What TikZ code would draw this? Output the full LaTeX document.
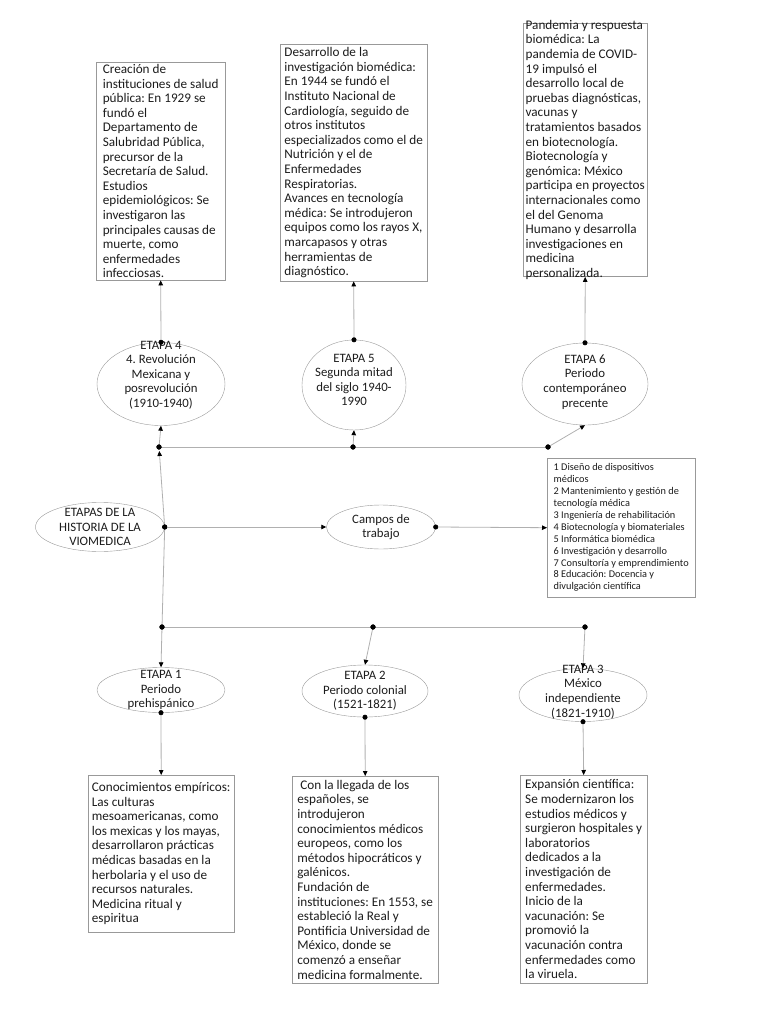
\documentclass[tikz,border=0pt]{standalone}
\usepackage{fontspec}
\setmainfont{Carlito}
\usetikzlibrary{arrows.meta, shapes.geometric, positioning}
\definecolor{linea}{HTML}{B0B0B0}
\definecolor{borde}{HTML}{999999}
\definecolor{tinta}{HTML}{1C1C1C}

\begin{document}
\frenchspacing
\begin{tikzpicture}[x=1pt, y=-1pt,
every node/.append style = {text=tinta, font=\fontsize{12.8}{14.6}\selectfont},
  caja/.style = {draw=borde, anchor=north west, align=left,
                 inner xsep=0pt, inner ysep=1pt,
                 font=\fontsize{13.2}{14.6}\selectfont},
 etapa/.style = {ellipse, draw=borde, inner sep=0pt},
rotulo/.style = {align=center, inner sep=0pt},
   con/.style = {draw=linea, line width=0.8pt, shorten <=-2.5pt,
                 {Circle[color=black, length=5pt]}-{Triangle[color=black, length=5pt, width=4.5pt]}},
   bus/.style = {draw=linea, line width=0.8pt}
                    ]
\useasboundingbox (0,0) rectangle (768,1024);
%top boxes
\node (caja4) [caja, minimum width=129pt, minimum height=218pt] at (96,62)
  {Creación de\\instituciones de salud\\pública: En 1929 se\\fundó el\\Departamento de\\Salubridad Pública,\\precursor de la\\Secretaría de Salud.\\Estudios\\epidemiológicos: Se\\investigaron las\\principales causas de\\muerte, como\\enfermedades\\infecciosas.};
\node (caja5) [caja, minimum width=147pt, minimum height=237pt] at (280,44)
  {Desarrollo de la\\investigación biomédica:\\En 1944 se fundó el\\Instituto Nacional de\\Cardiología, seguido de\\otros institutos\\especializados como el de\\Nutrición y el de\\Enfermedades\\Respiratorias.\\Avances en tecnología\\médica: Se introdujeron\\equipos como los rayos X,\\marcapasos y otras\\herramientas de\\diagnóstico.};
\node (caja6) [caja, minimum width=124pt, inner ysep=-3pt] at (523,23)
  {Pandemia y respuesta\\biomédica: La\\pandemia de COVID-\\19 impulsó el\\desarrollo local de\\pruebas diagnósticas,\\vacunas y\\tratamientos basados\\en biotecnología.\\Biotecnología y\\genómica: México\\participa en proyectos\\internacionales como\\el del Genoma\\Humano y desarrolla\\investigaciones en\\medicina\\personalizada.};
%upper stages
\node (e4) [etapa, minimum width=128pt, minimum height=83pt] at (161,384) {};
\node (t4) [rotulo] at (161,375) {ETAPA 4\\4. Revolución\\Mexicana y\\posrevolución\\(1910-1940)};
\node (e5) [etapa, minimum width=104pt, minimum height=90pt] at (354,385) {};
\node (t5) [rotulo] at (354,380) {ETAPA 5\\Segunda mitad\\del siglo 1940-\\1990};
\node (e6) [etapa, minimum width=126pt, minimum height=82pt] at (585,384) {};
\node (t6) [rotulo] at (585,382) {ETAPA 6\\Periodo\\contemporáneo\\precente};
%middle row
\node (historia) [etapa, minimum width=129pt, minimum height=49pt] at (100,527) {};
\node (th) [rotulo] at (100,527) {ETAPAS DE LA\\HISTORIA DE LA\\VIOMEDICA};
\node (campos) [etapa, minimum width=109pt, minimum height=44pt, align=center] at (381,527) {Campos de\\trabajo};
\node (lista) [caja, minimum width=148pt, minimum height=139pt,
               font=\fontsize{10.3}{11.9}\selectfont] at (547,458)
  {1 Diseño de dispositivos\\médicos\\2 Mantenimiento y gestión de\\tecnología médica\\3 Ingeniería de rehabilitación\\4 Biotecnología y biomateriales\\5 Informática biomédica\\6 Investigación y desarrollo\\7 Consultoría y emprendimiento\\8 Educación: Docencia y\\divulgación científica};
%lower stages
\node (e1) [etapa, minimum width=128pt, minimum height=45pt] at (161,690) {};
\node (t1) [rotulo] at (161,690) {ETAPA 1\\Periodo\\prehispánico};
\node (e2) [etapa, minimum width=126pt, minimum height=52pt] at (365,691) {};
\node (t2) [rotulo] at (365,691) {ETAPA 2\\Periodo colonial\\(1521-1821)};
\node (e3) [etapa, minimum width=128pt, minimum height=53pt] at (583,695) {};
\node (t3) [rotulo] at (583,692) {ETAPA 3\\México\\independiente\\(1821-1910)};
%bottom boxes
\node (caja1) [caja, minimum width=146pt, minimum height=157pt] at (88,775)
  {Conocimientos empíricos:\\Las culturas\\mesoamericanas, como\\los mexicas y los mayas,\\desarrollaron prácticas\\médicas basadas en la\\herbolaria y el uso de\\recursos naturales.\\Medicina ritual y\\espiritua};
\node (caja2) [caja, minimum width=146pt, minimum height=207pt] at (292,776)
  {\ Con la llegada de los\\españoles, se\\introdujeron\\conocimientos médicos\\europeos, como los\\métodos hipocráticos y\\galénicos.\\Fundación de\\instituciones: En 1553, se\\estableció la Real y\\Pontificia Universidad de\\México, donde se\\comenzó a enseñar\\medicina formalmente.};
\node (caja3) [caja, minimum width=127pt, minimum height=208pt] at (520,775)
  {Expansión científica:\\Se modernizaron los\\estudios médicos y\\surgieron hospitales y\\laboratorios\\dedicados a la\\investigación de\\enfermedades.\\Inicio de la\\vacunación: Se\\promovió la\\vacunación contra\\enfermedades como\\la viruela.};
%junctions
\coordinate (tl) at (159,447);
\coordinate (tm) at (353,447);
\coordinate (tr) at (548,447);
\coordinate (bl) at (162,627);
\coordinate (bm) at (373,627);
\coordinate (br) at (585,627);
%edges
\draw[bus] (tl) -- (tr);
\draw[bus] (bl) -- (br);
\draw[bus] (historia.east) -- (bl);
\draw[con, shorten >=4pt] (historia.east) -- (tl);
\draw[con] (historia.east) -- (campos.west);
\draw[con] (campos.east) -- (lista.west);
\draw[con] (tl) -- (e4.south);
\draw[con] (tm) -- (e5.south);
\draw[con] (tr) -- (e6.south);
\draw[con] (e4.north) -- (caja4.south);
\draw[con] (e5.north) -- (caja5.south);
\draw[con] (e6.north) -- (caja6.south);
\draw[con] (bl) -- (e1.north);
\draw[con] (bm) -- (e2.north);
\draw[con] (br) -- (e3.north);
\draw[con] (e1.south) -- (caja1.north);
\draw[con] (e2.south) -- (caja2.north);
\draw[con] (e3.south) -- (caja3.north);
\foreach \p in {tl,tm,tr,bl,bm,br}
  \fill (\p) circle (2.6pt);
\end{tikzpicture}
\end{document}
